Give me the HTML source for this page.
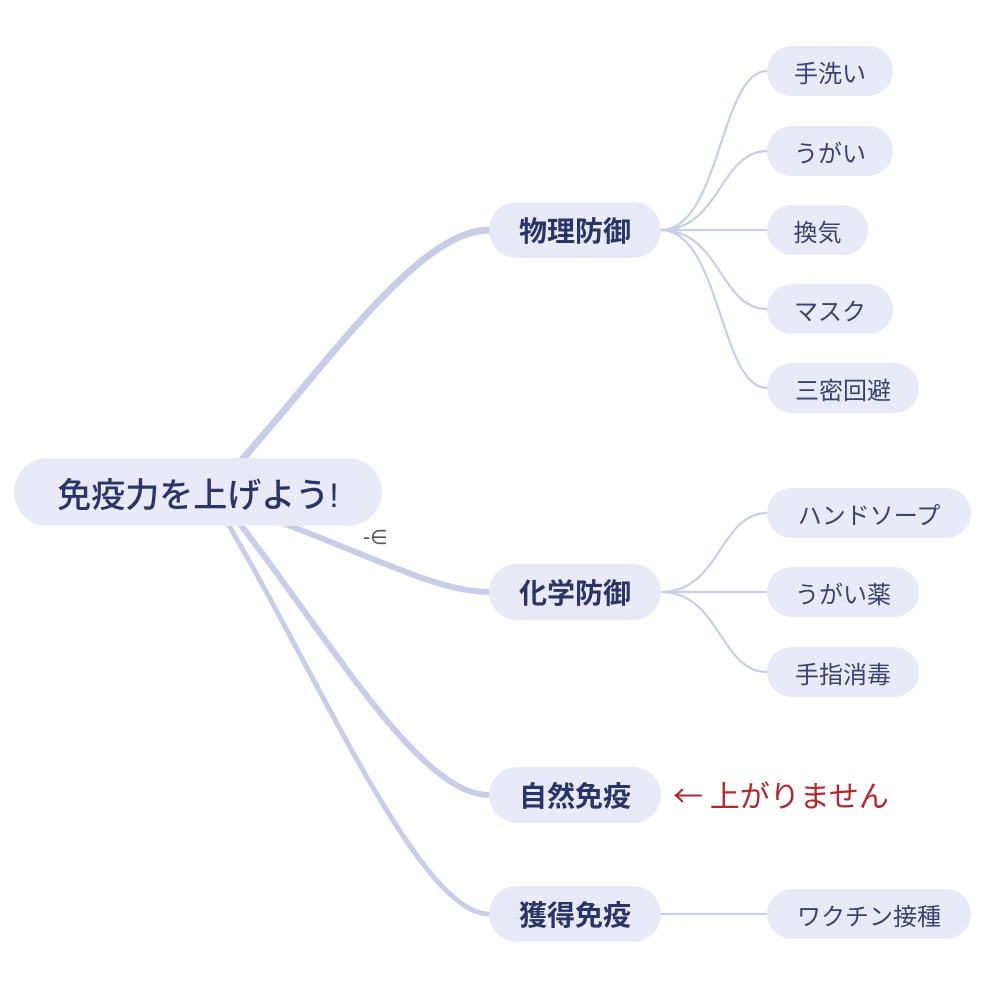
<!DOCTYPE html>
<html><head><meta charset="utf-8"><style>
body{margin:0;width:984px;height:990px;background:#fff;position:relative;overflow:hidden;font-family:"Liberation Sans","Noto Sans CJK JP",sans-serif;}
.n{position:absolute;background:#e8eaf7;color:#2b3468;display:flex;align-items:center;justify-content:center;box-sizing:border-box;white-space:nowrap;}
.r{left:14px;top:458px;width:368px;height:68px;border-radius:34px;font-size:34px;font-weight:500;}
.m{left:489px;width:172px;height:56px;border-radius:28px;font-size:28px;font-weight:bold;}
.l{left:767px;height:50px;border-radius:25px;font-size:24px;color:#3a4270;}
svg{position:absolute;left:0;top:0;}
</style></head><body>
<svg width="984" height="990">
<g fill="none" stroke="#c8cee8" stroke-linecap="round">
<path d="M240,462 C330,360 420,230 489,230" stroke-width="7"/>
<path d="M285,524 C380,560 440,592 489,592" stroke-width="6"/>
<path d="M240,524 C330,640 420,795 489,795" stroke-width="6"/>
<path d="M228,524 C320,680 420,914 489,914" stroke-width="5"/>
<g stroke-width="2.2">
<path d="M661,230 C720,230 720,71 767,71"/>
<path d="M661,230 C720,230 720,151 767,151"/>
<path d="M661,230 L767,230"/>
<path d="M661,230 C720,230 720,309 767,309"/>
<path d="M661,230 C720,230 720,388 767,388"/>
<path d="M661,592 C720,592 720,513 767,513"/>
<path d="M661,592 L767,592"/>
<path d="M661,592 C720,592 720,672 767,672"/>
<path d="M661,914 L767,914"/>
</g></g>
<text x="363" y="544" font-size="20" fill="#555" font-family="DejaVu Sans">-∈</text>
</svg>
<div class="n r">免疫力を上げよう!</div>
<div class="n m" style="top:202px">物理防御</div>
<div class="n m" style="top:564px">化学防御</div>
<div class="n m" style="top:767px">自然免疫</div>
<div class="n m" style="top:886px">獲得免疫</div>
<div class="n l" style="top:46px;width:126px">手洗い</div>
<div class="n l" style="top:126px;width:126px">うがい</div>
<div class="n l" style="top:205px;width:101px">換気</div>
<div class="n l" style="top:284px;width:126px">マスク</div>
<div class="n l" style="top:363px;width:152px">三密回避</div>
<div class="n l" style="top:488px;width:204px">ハンドソープ</div>
<div class="n l" style="top:567px;width:152px">うがい薬</div>
<div class="n l" style="top:647px;width:152px">手指消毒</div>
<div class="n l" style="top:889px;width:204px">ワクチン接種</div>
<div style="position:absolute;left:673px;top:774px;font-size:30px;color:#b8262b;line-height:40px;font-family:'Noto Sans CJK JP',sans-serif;white-space:nowrap;">← 上がりません</div>
</body></html>
